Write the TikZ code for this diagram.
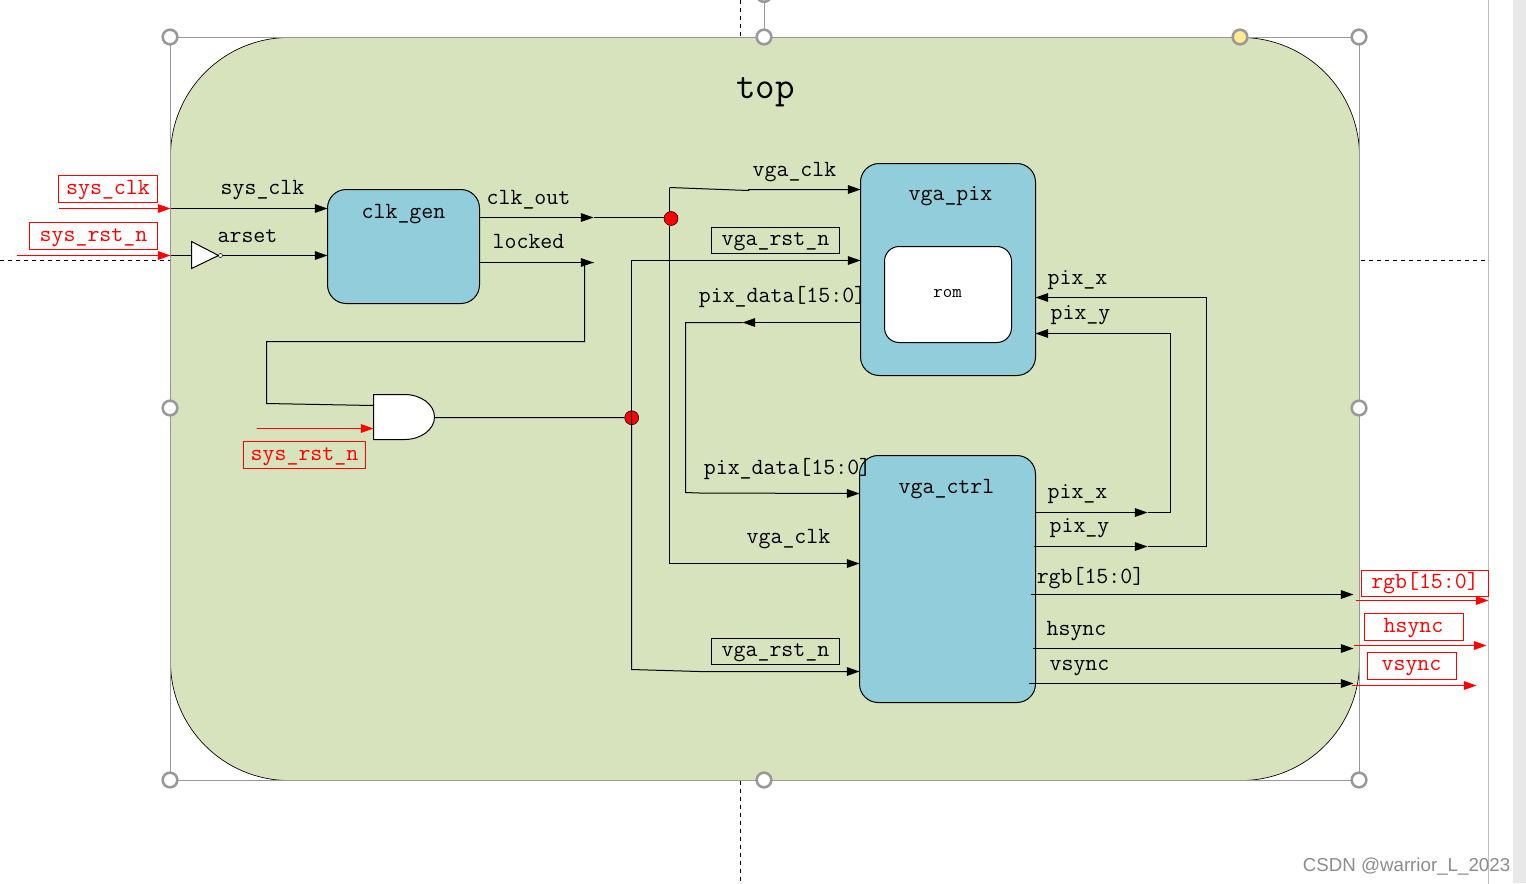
\documentclass[tikz,border=0pt]{standalone}
\usepackage{fontspec}
\setmonofont{Latin Modern Mono}
\newfontfamily\wmfont{Liberation Sans}
\usetikzlibrary{arrows.meta,calc}
\definecolor{topgreen}{HTML}{D7E3BD}
\definecolor{blockblue}{HTML}{92CDDC}
\definecolor{handlegray}{HTML}{989898}
\definecolor{yellowh}{HTML}{FFE991}
\tikzset{
  x=0.75pt,y=-0.75pt,
  wire/.style={draw=black,line width=0.75pt},
  redwire/.style={draw=red,line width=0.75pt},
  tip/.style={-{Triangle[length=9.5pt,width=6.5pt]}},
  redtip/.style={-{Triangle[length=9.5pt,width=6.5pt,red]}},
  block/.style={draw=black,line width=0.75pt,fill=blockblue,rounded corners=14pt,inner sep=0pt,outer sep=0pt},
  lab/.style={anchor=base,inner sep=0pt,yshift=1.1pt,font=\ttfamily\fontsize{17.4pt}{20pt}\selectfont},
  boxlab/.style={draw=black,line width=0.75pt,inner sep=0pt,outer sep=0pt,font=\ttfamily\fontsize{17.4pt}{20pt}\selectfont,text height=11.5pt,text depth=3.5pt},
  redlab/.style={boxlab,draw=red,text=red},
  handle/.style={circle,draw=handlegray,line width=1.9pt,fill=white,minimum size=11pt,inner sep=0pt},
  junction/.style={circle,draw=black,line width=0.4pt,fill=red,minimum size=10.5pt,inner sep=0pt},
}
\begin{document}
\begin{tikzpicture}
\useasboundingbox (0,0) rectangle (1526,883);
\clip (0,0) rectangle (1526,883);
\fill[white] (0,0) rectangle (1526,883);
\fill[black!9] (1513,0) rectangle (1526,883);
\begin{scope}[shift={(-0.5,0.5)}]
% window furniture
\draw[black!25,line width=0.75pt] (1489,-1) -- (1489,884);
\draw[dashed,line width=0.6pt] (0,260) -- (171,260);
\draw[dashed,line width=0.6pt] (1361,260) -- (1489,260);
\draw[dashed,line width=0.6pt] (740.5,-1) -- (740.5,37);
\draw[dashed,line width=0.6pt] (740.5,780) -- (740.5,884);
% top module
\draw[fill=topgreen,line width=0.5pt,rounded corners=89pt] (171,37) rectangle (1360,780);
\draw[handlegray,line width=0.75pt] (171,37) rectangle (1360,780);
\draw[handlegray,line width=0.75pt] (765,-1) -- (765,30);
\node[lab,font=\ttfamily\fontsize{28.4pt}{30pt}\selectfont] (toplabel) at (766,99) {top};

% blocks
\node[block,minimum width=152*0.75pt,minimum height=114*0.75pt] (clkgen) at (404,246) {};
\node[block,minimum width=175*0.75pt,minimum height=212*0.75pt] (vgapix) at (948.5,269) {};
\node[block,fill=white,rounded corners=11pt,minimum width=127*0.75pt,minimum height=96*0.75pt] (rom) at (948.5,294) {};
\node[block,minimum width=176*0.75pt,minimum height=247*0.75pt] (vgactrl) at (948,578.5) {};

% gates
\draw[line width=0.75pt,fill=white] (192,241) -- (219,255) -- (192,268) -- cycle;
\node[circle,draw=black,line width=0.4pt,fill=white,minimum size=3pt,inner sep=0pt] (inv) at (221,255) {};
\coordinate (invin) at (192,255);
\draw[line width=0.75pt,fill=white] (374,394) -- (405,394) arc[start angle=90,end angle=-90,x radius=22.5pt,y radius=16.875pt] -- (374,439) -- cycle;
\coordinate (andA) at (374,405);
\coordinate (andB) at (374,428);
\coordinate (andY) at (435,417);

% coordinates
\coordinate (edgeclk) at (171,208);
\coordinate (edgerst) at (171,255);
\coordinate (redclk0) at (59,208);
\coordinate (redrst0) at (17,255);
\coordinate (redand0) at (257,428);
\node[junction] (jclk) at (671.5,218) {};
\node[junction] (jrst) at (632.2,417.2) {};
\coordinate (clkoutA) at (594,217);
\coordinate (lockedA) at (594,262);

% black wires
\draw[wire,tip] (edgeclk) -- (edgeclk -| clkgen.west);
\draw[wire] (edgerst) -- (invin);
\draw[wire,tip] (inv) -- (inv -| clkgen.west);
\draw[wire,tip] (clkgen.east |- clkoutA) -- (clkoutA);
\draw[wire] (clkoutA) -- (jclk.west |- clkoutA);
\draw[wire,tip] (clkgen.east |- lockedA) -- (lockedA);
\draw[wire] (lockedA) -- (585,262) -- (585,341) -- (267,341) -- (267,403) -- (andA);
\draw[wire] (andY) -- (jrst);

\draw[wire,tip] (670,187) -- (749,190) -- (749,189) -- (vgapix.west |- 0,189);
\draw[wire] (670,187) -- (670,211);
\draw[wire,tip] (670,225) -- (670,563) -- (vgactrl.west |- 0,563);
\draw[wire,tip] (632,417) -- (632,260) -- (vgapix.west |- 0,260);
\draw[wire,tip] (632,417) -- (632,669) -- (700,671) -- (vgactrl.west |- 0,671);
\coordinate (pdA) at (743,322);
\draw[wire,tip] (vgapix.west |- pdA) -- (pdA);
\draw[wire,tip] (pdA) -- (686,322) -- (686,492) -- (700,492.5) -- (vgactrl.west |- 0,493);
\coordinate (cxA) at (1148,512);
\coordinate (cyA) at (1148,546);
\draw[wire,tip] (1035,512) -- (cxA);
\draw[wire,tip] (1171,512) -- (1171,333) -- (vgapix.east |- 0,333);
\draw[wire] (cxA) -- (1171,512);
\draw[wire,tip] (1034,546) -- (cyA);
\draw[wire] (cyA) -- (1207,546);
\draw[wire,tip] (1207,546) -- (1207,297) -- (vgapix.east |- 0,297);
\coordinate (rgbE) at (1354,594);
\coordinate (hsE) at (1354,648);
\coordinate (vsE) at (1354,683);
\draw[wire,tip] (1031,594) -- (rgbE);
\draw[wire,tip] (1033,648) -- (hsE);
\draw[wire,tip] (1029,683) -- (vsE);

% red wires
\draw[redwire,redtip] (redclk0) -- (edgeclk);
\draw[redwire,redtip] (redrst0) -- (edgerst);
\draw[redwire,redtip] (redand0) -- (andB);
\draw[redwire,redtip] (1356,600) -- (1489,600);
\draw[redwire,redtip] (1354,645) -- (1487,645);
\draw[redwire,redtip] (1352,685) -- (1477,685);

% red boxes
\node[redlab,minimum width=99*0.75pt,minimum height=27*0.75pt] (rclk) at (108.5,188.5) {sys\_clk};
\node[redlab,minimum width=128*0.75pt,minimum height=27*0.75pt] (rrst) at (94,235.5) {sys\_rst\_n};
\node[redlab,minimum width=122*0.75pt,minimum height=27*0.75pt] (rrstb) at (305,454.5) {sys\_rst\_n};
\node[redlab,minimum width=127*0.75pt,minimum height=26*0.75pt] (rrgb) at (1425.5,583) {rgb[15:0]};
\node[redlab,minimum width=99*0.75pt,minimum height=27*0.75pt] (rhs) at (1414,626.5) {hsync};
\node[redlab,minimum width=89*0.75pt,minimum height=27*0.75pt] (rvs) at (1412,665) {vsync};
% black boxed labels
\node[boxlab,minimum width=128*0.75pt,minimum height=26*0.75pt] (brst1) at (776,240) {vga\_rst\_n};
\node[boxlab,minimum width=128*0.75pt,minimum height=26*0.75pt] (brst2) at (776,651) {vga\_rst\_n};

% labels
\node[lab] (l1) at (263,195) {sys\_clk};
\node[lab] (l2) at (248,243) {arset};
\node[lab] (l3) at (404,219) {clk\_gen};
\node[lab] (l4) at (529,205) {clk\_out};
\node[lab] (l5) at (529,249) {locked};
\node[lab] (l6) at (795,177) {vga\_clk};
\node[lab] (l7) at (951,201) {vga\_pix};
\node[lab,font=\ttfamily\fontsize{13.8pt}{16pt}\selectfont] (l8) at (948,298) {rom};
\node[lab] (l9) at (1078,285) {pix\_x};
\node[lab] (l10) at (1081,320) {pix\_y};
\node[lab] (l11) at (783,303) {pix\_data[15:0]};
\node[lab] (l12) at (788,475) {pix\_data[15:0]};
\node[lab] (l13) at (947,494) {vga\_ctrl};
\node[lab] (l14) at (1078,499) {pix\_x};
\node[lab] (l15) at (1080,533) {pix\_y};
\node[lab] (l16) at (789,544) {vga\_clk};
\node[lab] (l17) at (1091,584) {rgb[15:0]};
\node[lab] (l18) at (1077,636) {hsync};
\node[lab] (l19) at (1080,671) {vsync};

% handles
\node[handle] (h1) at (170.5,36.5) {};
\node[handle] (h2) at (764.5,36.5) {};
\node[handle] (h3) at (1359.5,36.5) {};
\node[handle] (h4) at (170.5,407.5) {};
\node[handle] (h5) at (1359.5,407.5) {};
\node[handle] (h6) at (170.5,779.5) {};
\node[handle] (h7) at (764.5,779.5) {};
\node[handle] (h8) at (1359.5,779.5) {};
\node[handle,fill=yellowh] (h9) at (1240.5,36.5) {};
\node[handle] (h10) at (764.5,-6) {};

% watermark
\node[anchor=base west,inner sep=0pt,text=black!45,font=\wmfont\fontsize{14.05pt}{16pt}\selectfont] (wm) at (1303,871) {CSDN @warrior\_L\_2023};
\end{scope}
\end{tikzpicture}
\end{document}
